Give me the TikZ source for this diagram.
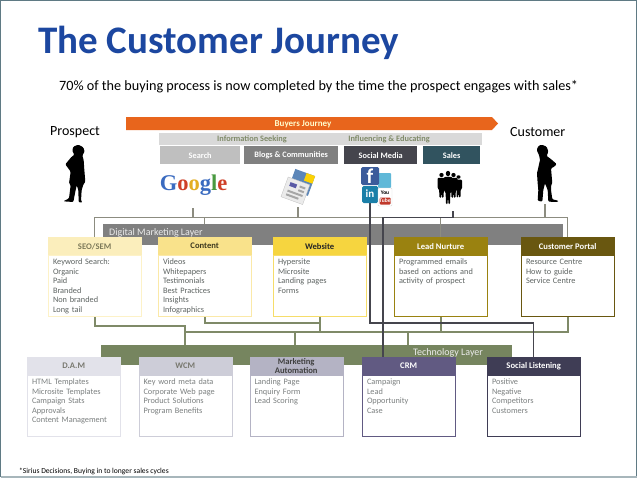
\documentclass[tikz,border=0pt]{standalone}
\usepackage{fontspec}
\setmainfont{Carlito}
\newfontfamily\googlefont{Liberation Serif}
\usetikzlibrary{backgrounds}

\definecolor{titleblue}{HTML}{1C47A0}
\definecolor{framecol}{HTML}{5F7A84}
\definecolor{orangebar}{HTML}{E8651C}
\definecolor{linegray}{HTML}{8C8C80}
\definecolor{lineolive}{HTML}{7F8A68}
\definecolor{linedark}{HTML}{45454D}
\definecolor{techgreen}{HTML}{76855F}
\definecolor{bodytext}{HTML}{5E6462}
\definecolor{softtext}{HTML}{7C8080}
\definecolor{salescol}{HTML}{31535F}
\definecolor{seocol}{HTML}{FBEEBC}
\definecolor{seoline}{HTML}{FDF2C8}
\definecolor{seotext}{HTML}{7D7A5A}
\definecolor{contentcol}{HTML}{F9E28B}
\definecolor{contentline}{HTML}{FBE9A8}
\definecolor{contenttext}{HTML}{3F3A20}
\definecolor{webcol}{HTML}{F6D53F}
\definecolor{webline}{HTML}{F6DD6A}
\definecolor{leadcol}{HTML}{9A8210}
\definecolor{portalcol}{HTML}{695710}
\definecolor{damcol}{HTML}{E2E2EA}
\definecolor{damtext}{HTML}{78786F}
\definecolor{wcmcol}{HTML}{CDCDD8}
\definecolor{macol}{HTML}{B4B3C4}
\definecolor{crmcol}{HTML}{615A82}
\definecolor{listencol}{HTML}{3F3D55}
\definecolor{blogblue}{HTML}{5C86B8}
\definecolor{twitterblue}{HTML}{5FB8D8}
\definecolor{facebookblue}{HTML}{3B5B9B}
\definecolor{linkedinblue}{HTML}{1A7FA8}
\definecolor{youtubered}{HTML}{C0392B}

\tikzset{
  lbl/.style={anchor=base west,inner sep=0pt},
  stagebox/.style={anchor=north west,inner sep=0pt,minimum height=18pt,text=white,font=\bfseries\fontsize{8.3}{9}\selectfont},
  cardhead/.style 2 args={anchor=north west,fill=#1,draw=#1,inner sep=0pt,minimum width=93pt,minimum height=18pt,align=center,text=#2,font=\bfseries\fontsize{8.6}{8.6}\selectfont},
  cardbody/.style={anchor=north west,fill=white,draw=#1,line width=1pt,text width=84pt,inner xsep=4.5pt,inner ysep=1pt,text height=8pt,text depth=51pt,align=left,text=bodytext,font=\fontsize{8.3}{9.6}\selectfont},
  softbody/.style={cardbody=#1,text=softtext},
  grayline/.style={draw=linegray,line width=1.1pt},
  oliveline/.style={draw=lineolive,line width=1.1pt},
  darkline/.style={draw=linedark,line width=1.1pt},
  shadow/.style={fill=black,draw=none,rounded corners=1pt},
  youtag/.style={inner sep=0pt,align=center,font=\bfseries\fontsize{5.5}{5.5}\selectfont}
}

\begin{document}
\begin{tikzpicture}[x=1pt,y=-1pt]
    \useasboundingbox (0,0) rectangle (638,479);

    % Slide frame
    \draw[framecol,line width=1.2pt] (0.6,477) -- (0.6,0.6) -- (636.8,0.6) -- (636.8,477);
    \draw[framecol!55,line width=1.6pt] (0.6,477.2) -- (636.8,477.2);

    % Title and subtitle
    \node[lbl,text=titleblue,font=\bfseries\fontsize{39}{39}\selectfont] (title) at (38,53.5) {The Customer Journey};
    \node[lbl,font=\fontsize{14.2}{15}\selectfont] (subtitle) at (59,90.5) {70\% of the buying process is now completed by the time the prospect engages with sales*};
    \node[lbl,font=\fontsize{14}{15}\selectfont] (prospect) at (50,135) {Prospect};
    \node[lbl,font=\fontsize{14}{15}\selectfont] (customer) at (510,136) {Customer};

    % Buyers journey arrow
    \fill[orangebar] (126,117) -- (492,117) -- (498,123.5) -- (492,130) -- (126,130) -- cycle;
    \node[text=yellow!20!white,font=\bfseries\fontsize{9}{9}\selectfont] (journey) at (303,124) {Buyers Journey};

    % Stages
    \fill[black!15] (159,133) rectangle (482,145);
    \node[text=lineolive,font=\bfseries\fontsize{8.3}{9}\selectfont] (seeking) at (252,139) {Information Seeking};
    \node[text=lineolive,font=\bfseries\fontsize{8.3}{9}\selectfont] (influencing) at (389,139) {Influencing \& Educating};
    \node[stagebox,fill=black!25,minimum width=80pt] (search) at (160,146) {Search};
    \node[stagebox,fill=black!50,minimum width=94pt] (blogs) at (244,146) {Blogs \& Communities};
    \node[stagebox,fill=linedark,minimum width=73pt] (social) at (344,146) {Social Media};
    \node[stagebox,fill=salescol,minimum width=57pt] (sales) at (423,146) {Sales};

    % Prospect silhouette
    \begin{scope}[shift={(55,140)},x=0.3333pt,y=-0.3333pt]
        \fill[shadow] (70,14) -- (85,22) -- (89,35) -- (82,46) -- (86,60) -- (88,90) -- (91,125) -- (85,134) -- (80,150) -- (78,183) -- (83,187) -- (71,187) -- (70,150) -- (65,136) -- (60,160) -- (55,186) -- (25,184) -- (42,175) -- (47,135) -- (42,130) -- (47,95) -- (31,73) -- (50,50) -- (58,45) -- (52,32) -- (55,20) -- cycle;
    \end{scope}

    % Customer silhouette
    \begin{scope}[shift={(525,140)},x=0.3333pt,y=-0.3333pt]
        \fill[shadow] (50,14) -- (65,20) -- (70,35) -- (65,48) -- (75,55) -- (95,72) -- (88,80) -- (78,85) -- (82,130) -- (78,136) -- (78,150) -- (82,178) -- (100,182) -- (98,186) -- (70,185) -- (68,150) -- (60,130) -- (55,150) -- (52,185) -- (38,182) -- (40,150) -- (38,130) -- (36,100) -- (45,60) -- (42,45) -- (35,30) -- (40,18) -- cycle;
    \end{scope}

    % Google logo
    \node[inner sep=0pt,font=\googlefont\bfseries\fontsize{22.5}{23}\selectfont] (google) at (193.5,185.5) {\textcolor[HTML]{3A6BC0}{G}\textcolor[HTML]{CF4028}{o}\textcolor[HTML]{E3AE22}{o}\textcolor[HTML]{3A6BC0}{g}\textcolor[HTML]{4A9A40}{l}\textcolor[HTML]{CF4028}{e}};

    % Blog pages
    \begin{scope}[shift={(298,188)},rotate=-20]
        \fill[blogblue] (-9,-17) rectangle (12,4);
        \fill[yellow!70!orange] (3,-17) rectangle (12,-9);
        \filldraw[fill=black!8,draw=black!25,line width=0.3pt] (-13,-7) rectangle (10,14);
        \fill[blue!30!gray] (-9,-3) rectangle (-2,1);
        \fill[black!35] (1,-3) rectangle (7,-1) (1,1) rectangle (7,3) (-9,5) rectangle (7,7) (-9,9) rectangle (4,11);
    \end{scope}

    % Social icons
    \fill[twitterblue,rounded corners=1pt] (378,173) rectangle (391,188);
    \node[fill=facebookblue,rounded corners=1.5pt,minimum size=18pt,inner sep=0pt,text=white,font=\bfseries\fontsize{21}{21}\selectfont] (facebook) at (370,176) {f};
    \fill[linkedinblue,rounded corners=1.5pt] (362,186) rectangle (378,203);
    \node[inner sep=0pt,text=white,font=\bfseries\fontsize{11}{11}\selectfont] (linkedin) at (370,194) {in};
    \filldraw[draw=black!15,fill=white,rounded corners=1pt] (378,188) rectangle (392,206);
    \fill[youtubered,rounded corners=1pt] (379.5,197.5) rectangle (390.5,204.5);
    \node[youtag] (youtop) at (385,192.5) {You};
    \node[youtag,text=white] (youbottom) at (385,201) {Tube};

    % Sales team
    \fill[shadow,shift={(458.5,177)},yscale=0.85] (0,0) circle (2) (-3.5,3) -- (3.5,3) -- (3.5,14) -- (2,15) -- (2,24) -- (0.4,24) -- (0,16) -- (-0.4,24) -- (-2,24) -- (-2,15) -- (-3.5,14) -- cycle;
    \fill[shadow,shift={(441.5,175)},yscale=0.95] (0,0) circle (2.2) (-4,3) -- (4,3) -- (4,14) -- (2.4,15) -- (2,24) -- (0.4,24) -- (0,16) -- (-0.4,24) -- (-2,24) -- (-2.4,15) -- (-4,14) -- cycle;
    \fill[shadow,shift={(453.5,175)},yscale=0.95] (0,0) circle (2.2) (-4,3) -- (4,3) -- (4,14) -- (2.4,15) -- (2,24) -- (0.4,24) -- (0,16) -- (-0.4,24) -- (-2,24) -- (-2.4,15) -- (-4,14) -- cycle;
    \fill[shadow,shift={(448,173.5)},yscale=1.25] (0,0) circle (2.2) (-4,2.6) -- (4,2.6) -- (4,14) -- (2.4,15) -- (2,24.5) -- (0.4,24.5) -- (0,16) -- (-0.4,24.5) -- (-2,24.5) -- (-2.4,15) -- (-4,14) -- cycle;

    % Anchor points of the icons
    \coordinate (googlefoot) at (193,208);
    \coordinate (blogsfoot) at (298,207);
    \coordinate (socialfoot) at (370,203);
    \coordinate (salesfoot) at (453,211);
    \coordinate (customerfoot) at (545,204);
    \coordinate (topbus) at (320,217.5);
    \coordinate (darkturn) at (370,323);
    \coordinate (crmin) at (383,357);
    \coordinate (techleft) at (185,345);
    \coordinate (techmid) at (295,345);
    \coordinate (techright) at (408,345);
    \coordinate (midbus) at (320,332);
    \coordinate (contentbus) at (320,323);

    % Cards of the marketing layer
    \node[cardhead={seocol}{seotext}] (seohead) at (48,237) {SEO/SEM};
    \node[cardbody=seoline] (seobody) at (48,255) {Keyword Search:\\Organic\\Paid\\Branded\\Non branded\\Long tail};
    \node[cardhead={contentcol}{contenttext}] (contenthead) at (158,237) {Content};
    \node[cardbody=contentline] (contentbody) at (158,255) {Videos\\Whitepapers\\Testimonials\\Best Practices\\Insights\\Infographics};
    \node[cardhead={webcol}{black!85}] (websitehead) at (273,237) {Website};
    \node[cardbody=webline] (websitebody) at (273,255) {Hypersite\\Microsite\\Landing pages\\Forms};
    \node[cardhead={leadcol}{white}] (leadhead) at (394,237) {Lead Nurture};
    \node[cardbody=leadcol] (leadbody) at (394,255) {Programmed emails\\based on actions and\\activity of prospect};
    \node[cardhead={portalcol}{white}] (portalhead) at (521,237) {Customer Portal};
    \node[cardbody=portalcol] (portalbody) at (521,255) {Resource Centre\\How to guide\\Service Centre};

    % Cards of the technology layer
    \node[cardhead={damcol}{damtext}] (damhead) at (27,357) {D.A.M};
    \node[softbody=damcol] (dambody) at (27,375) {HTML Templates\\Microsite Templates\\Campaign Stats\\Approvals\\Content Management};
    \node[cardhead={wcmcol}{damtext}] (wcmhead) at (138.5,357) {WCM};
    \node[softbody=wcmcol] (wcmbody) at (138.5,375) {Key word meta data\\Corporate Web page\\Product Solutions\\Program Benefits};
    \node[cardhead={macol}{black!75}] (mahead) at (249.5,357) {Marketing\\Automation};
    \node[softbody=macol] (mabody) at (249.5,375) {Landing Page\\Enquiry Form\\Lead Scoring};
    \node[cardhead={crmcol}{white}] (crmhead) at (362,357) {CRM};
    \node[softbody=crmcol] (crmbody) at (362,375) {Campaign\\Lead\\Opportunity\\Case};
    \node[cardhead={listencol}{white}] (listenhead) at (487,357) {Social Listening};
    \node[softbody=listencol] (listenbody) at (487,375) {Positive\\Negative\\Competitors\\Customers};

    % Footnote
    \node[lbl,font=\fontsize{7.6}{8}\selectfont] (footnote) at (19,473) {*Sirius Decisions, Buying in to longer sales cycles};

    % Lines to and from the cards, and the two layers
    \begin{scope}[on background layer]
        \fill[white] (0,0) rectangle (638,479);
        \draw[grayline] (seohead.north) |- (topbus) -| (portalhead.north);
        \draw[grayline] (googlefoot) -- (googlefoot |- topbus);
        \draw[grayline] (blogsfoot) -- (blogsfoot |- topbus);
        \draw[grayline] (customerfoot) -- (customerfoot |- topbus);
        \draw[grayline] (contenthead.north) -- (contenthead.north |- topbus);
        \draw[oliveline] (seobody.south) |- ++(45,9) -| (techleft);
        \draw[oliveline] (contentbody.south) |- (contentbus);
        \draw[oliveline] (techleft |- midbus) -- (portalbody.south |- midbus) -- (portalbody.south);
        \draw[oliveline] (websitebody.south) -- (websitebody.south |- midbus);
        \draw[oliveline] (leadbody.south) -- (leadbody.south |- midbus);
        \draw[oliveline] (techmid |- midbus) -- (techmid);
        \draw[oliveline] (techright |- midbus) -- (techright);
        \fill[black!50] (103,224) rectangle (563,245);
        \fill[techgreen] (101,345) rectangle (512,365);
        \draw[grayline,line width=0.6pt] (leadhead.north) -- (leadhead.north |- topbus);
        \draw[darkline] (socialfoot) -- (darkturn) -| (listenhead.north);
        \draw[darkline] (salesfoot) |- (crmin |- topbus) -- (crmin);
    \end{scope}
    \node[lbl,text=white!92!black,font=\fontsize{10}{11}\selectfont] (digital) at (109,235.5) {Digital Marketing Layer};
    \node[lbl,text=white!92!black,font=\fontsize{10}{11}\selectfont] (technology) at (413,355) {Technology Layer};
\end{tikzpicture}
\end{document}
